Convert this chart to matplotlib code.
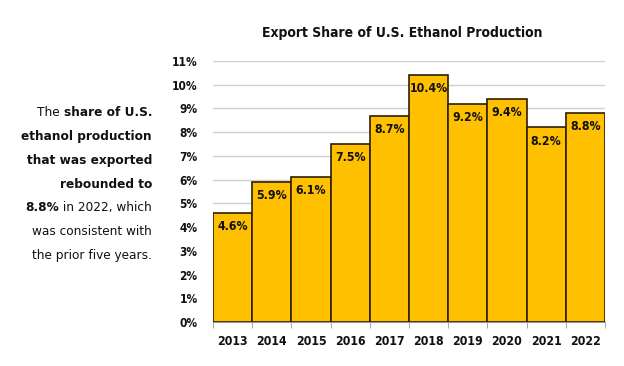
import matplotlib
matplotlib.use("Agg")
import matplotlib.pyplot as plt
from matplotlib import font_manager
from matplotlib.font_manager import FontProperties
import os

years = ["2013", "2014", "2015", "2016", "2017", "2018", "2019", "2020", "2021", "2022"]
shares = [4.6, 5.9, 6.1, 7.5, 8.7, 10.4, 9.2, 9.4, 8.2, 8.8]
ytick_vals = list(range(0, 12))

files = [f.fname for f in font_manager.fontManager.ttflist]
def find(keys_all, exclude=()):
    for fn in sorted(files):
        b = os.path.basename(fn).lower()
        if all(k in b for k in keys_all) and not any(e in b for e in exclude):
            return fn
    return None

cands = [("dejavusanscondensed", ), ("robotocondensed",), ("liberationsansnarrow",), ("opensans_condensed",), ("condensed",), ("narrow",)]
bold_file = reg_file = None
for c in cands:
    bf = find(list(c) + ["bold"], exclude=("oblique", "italic"))
    rf = find(list(c), exclude=("bold", "oblique", "italic", "light", "medium", "semi", "black", "thin", "extra"))
    if bf and rf:
        bold_file, reg_file = bf, rf
        break

CONDENSED = bold_file is not None
scale = 1.0 if CONDENSED else 0.85

def fp(bold, size):
    if CONDENSED:
        return FontProperties(fname=bold_file if bold else reg_file, size=size * scale)
    return FontProperties(family="DejaVu Sans", weight="bold" if bold else "normal", size=size * scale)

W, H = 624, 366
fig = plt.figure(figsize=(W/100, H/100), dpi=100)
ax = fig.add_axes([213/W, 1-322/H, (605-213)/W, (322-61)/H])

x = list(range(len(years)))
ax.bar(x, shares, width=1.0, color="#FFC000", edgecolor="#2e1f00", linewidth=1.2, zorder=3)
for xi, v in zip(x, shares):
    ax.text(xi, v - 0.3, f"{v:.1f}%", ha="center", va="top", fontproperties=fp(True, 8.8),
            color="#111111", zorder=4)

ax.set_xlim(-0.5, len(years) - 0.5)
ax.set_ylim(0, 11)
ax.set_yticks(ytick_vals)
ax.set_yticklabels([f"{v}%" for v in ytick_vals])
for t in ax.get_yticklabels():
    t.set_fontproperties(fp(True, 8.6))
    t.set_color("#111111")
ax.yaxis.grid(True, color="#d0d0d0", linewidth=1, zorder=0)
ax.set_axisbelow(True)
ax.tick_params(axis="y", length=0, pad=11)
ax.set_xticks(x)
ax.set_xticklabels(years)
for t in ax.get_xticklabels():
    t.set_fontproperties(fp(True, 8.8))
    t.set_color("#111111")
ax.set_xticks([i - 0.5 for i in range(len(years) + 1)], minor=True)
ax.tick_params(axis="x", which="major", length=0, pad=9.5)
ax.tick_params(axis="x", which="minor", length=4, color="#999999")
for s in ["top", "right", "left"]:
    ax.spines[s].set_visible(False)
ax.spines["bottom"].set_color("#999999")

fig.text(402/W, 1-33/H, "Export Share of U.S. Ethanol Production", ha="center", va="center",
         fontproperties=fp(True, 10), color="#111111")

lines = [
    [("The ", False), ("share of U.S.", True)],
    [("ethanol production", True)],
    [("that was exported", True)],
    [("rebounded to", True)],
    [("8.8%", True), (" in 2022, which", False)],
    [("was consistent with", False)],
    [("the prior five years.", False)],
]
renderer = fig.canvas.get_renderer()
xr = 152
y0 = 113
dy = 23.7
for i, parts in enumerate(lines):
    yy = 1 - (y0 + i * dy) / H
    xcur = xr / W
    for txt, b in reversed(parts):
        t = fig.text(xcur, yy, txt, ha="right", va="center", fontproperties=fp(b, 9.7),
                     color="#111111")
        bb = t.get_window_extent(renderer=renderer)
        xcur = bb.x0 / W

fig.savefig("out.png", dpi=100)
